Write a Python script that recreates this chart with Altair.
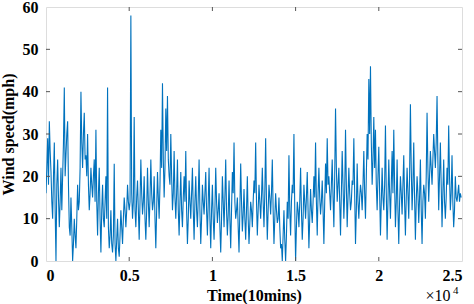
import altair as alt
import pandas as pd

# wind speed, one value every 100 samples (10-min steps)
speed = [
    16, 29, 33, 21, 10, 28, 0, 24, 8, 22,
    20, 41, 25, 33, 8, 15, 0, 10, 3, 18,
    14, 40, 22, 35, 25, 30, 12, 22, 15, 24,
    31, 6, 22, 2, 18, 8, 20, 41, 3, 12,
    2, 23, 0, 10, 1, 12, 4, 15, 8, 18,
    12, 58, 10, 34, 8, 19, 5, 24, 11, 20,
    5, 22, 8, 24, 12, 20, 3, 21, 10, 31,
    42, 15, 36, 39, 20, 30, 12, 26, 10, 24,
    6, 21, 8, 20, 26, 4, 19, 10, 22, 5,
    20, 8, 24, 4, 18, 11, 21, 6, 22, 3,
    18, 5, 22, 9, 16, 2, 20, 8, 24, 6,
    19, 3, 21, 28, 10, 15, 2, 23, 7, 17,
    5, 20, 4, 14, 8, 19, 28, 6, 18, 10,
    22, 8, 29, 5, 18, 11, 24, 4, 16, 9,
    15, 3, 0, 12, 0, 14, 25, 6, 18, 30,
    0, 14, 8, 22, 5, 18, 10, 21, 3, 17,
    9, 20, 28, 6, 22, 11, 19, 4, 23, 29,
    20, 12, 24, 8, 36, 14, 22, 6, 26, 10,
    31, 8, 22, 12, 19, 29, 4, 23, 10, 18,
    12, 26, 10, 30, 43, 46, 18, 34, 31, 12,
    27, 6, 22, 12, 32, 5, 24, 10, 26, 31,
    8, 24, 4, 20, 11, 25, 6, 22, 10, 37,
    12, 28, 5, 20, 9, 24, 4, 18, 10, 35,
    14, 26, 18, 30, 22, 39, 12, 28, 8, 24,
    10, 22, 32, 12, 25, 8, 20, 14, 18, 16,
]
# in-between readings (the dense middle band), one every 100 samples offset by 50
speed_mid = [
    22, 18, 26, 14, 20, 12, 18, 15, 14, 12,
    28, 20, 30, 18, 6, 8, 4, 6, 10, 12,
    22, 28, 30, 24, 20, 18, 16, 18, 20, 14,
    14, 16, 10, 12, 10, 14, 10, 8, 6, 4,
    6, 4, 5, 3, 6, 8, 10, 12, 12, 14,
    14, 16, 14, 12, 15, 12, 14, 16, 14, 10,
    12, 14, 15, 16, 14, 10, 12, 15, 18, 22,
    24, 22, 26, 24, 18, 20, 16, 15, 16, 12,
    14, 12, 15, 14, 12, 10, 14, 16, 12, 14,
    12, 15, 12, 10, 14, 16, 12, 14, 10, 12,
    10, 12, 14, 12, 8, 10, 14, 15, 12, 11,
    10, 12, 16, 14, 12, 8, 12, 14, 11, 10,
    12, 10, 9, 12, 14, 16, 14, 12, 14, 15,
    14, 16, 14, 12, 15, 16, 12, 10, 12, 10,
    8, 4, 6, 5, 6, 10, 12, 14, 16, 12,
    8, 12, 14, 12, 10, 14, 15, 12, 10, 12,
    14, 15, 14, 16, 15, 14, 12, 14, 16, 18,
    16, 18, 15, 20, 22, 18, 14, 16, 18, 16,
    18, 15, 16, 14, 18, 16, 12, 14, 15, 16,
    18, 16, 20, 24, 30, 28, 24, 22, 18, 20,
    16, 14, 15, 18, 16, 14, 16, 18, 16, 18,
    14, 12, 14, 16, 18, 14, 15, 16, 20, 22,
    18, 15, 14, 16, 15, 12, 14, 16, 20, 22,
    20, 22, 24, 26, 28, 24, 20, 18, 16, 14,
    15, 18, 20, 16, 14, 12, 15, 16, 14, 15,
]

time, values = [], []
for i, (a, b) in enumerate(zip(speed, speed_mid)):
    time += [i * 100, i * 100 + 50]
    values += [a, b]

y_ticks = [10, 20, 30, 40, 50]
x_ticks = [5000, 10000, 15000, 20000]

W, H = 416, 254
FONT = "Liberation Serif"
BLUE = "#0072BD"
FRAME = "#555555"

df = pd.DataFrame({"t": time, "v": values})
yt = pd.DataFrame({"y": y_ticks})
xt = pd.DataFrame({"x": x_ticks})

xscale = alt.Scale(domain=[0, 25000], nice=False, zero=False)
yscale = alt.Scale(domain=[0, 60], nice=False)

line = alt.Chart(df).mark_line(color=BLUE, strokeWidth=1.1, clip=True).encode(
    x=alt.X("t:Q", scale=xscale,
            axis=alt.Axis(values=[0, 5000, 10000, 15000, 20000, 25000],
                          labelExpr="datum.value / 10000",
                          title="Time(10mins)", tickSize=0, domain=False, grid=False,
                          labelFont=FONT, labelFontWeight="bold", labelFontSize=16,
                          labelColor="black", labelPadding=6,
                          titleFont=FONT, titleFontWeight="bold", titleFontSize=16,
                          titleColor="black", titlePadding=4)),
    y=alt.Y("v:Q", scale=yscale,
            axis=alt.Axis(values=[0, 10, 20, 30, 40, 50, 60],
                          title="Wind speed(mph)", tickSize=0, domain=False, grid=False,
                          labelFont=FONT, labelFontWeight="bold", labelFontSize=16,
                          labelColor="black", labelPadding=8,
                          titleFont=FONT, titleFontWeight="bold", titleFontSize=16,
                          titleColor="black", titlePadding=6)),
)

tick_style = dict(color=FRAME, strokeWidth=1)
left_ticks = alt.Chart(yt).mark_rule(**tick_style).encode(
    y=alt.Y("y:Q", scale=yscale), x=alt.value(0), x2=alt.value(4))
right_ticks = alt.Chart(yt).mark_rule(**tick_style).encode(
    y=alt.Y("y:Q", scale=yscale), x=alt.value(W - 4), x2=alt.value(W))
bottom_ticks = alt.Chart(xt).mark_rule(**tick_style).encode(
    x=alt.X("x:Q", scale=xscale), y=alt.value(H - 4), y2=alt.value(H))
top_ticks = alt.Chart(xt).mark_rule(**tick_style).encode(
    x=alt.X("x:Q", scale=xscale), y=alt.value(0), y2=alt.value(4))

mult = alt.Chart(pd.DataFrame({"s": ["\u00d710"]})).mark_text(
    font=FONT, fontSize=16, align="center", baseline="alphabetic", color="black"
).encode(text="s:N", x=alt.value(W - 24), y=alt.value(H + 40))
expo = alt.Chart(pd.DataFrame({"s": ["4"]})).mark_text(
    font=FONT, fontSize=11, align="left", baseline="alphabetic", color="black"
).encode(text="s:N", x=alt.value(W - 9), y=alt.value(H + 33))

chart = alt.layer(line, left_ticks, right_ticks, bottom_ticks, top_ticks, mult, expo).properties(
    width=W, height=H,
    autosize=alt.AutoSizeParams(type="none"),
    padding={"left": 46, "top": 7, "right": 12, "bottom": 43},
).configure_view(stroke=FRAME, strokeWidth=1).configure(background="white")

chart.save("out.html", embed_options={"renderer": "svg", "actions": False})
